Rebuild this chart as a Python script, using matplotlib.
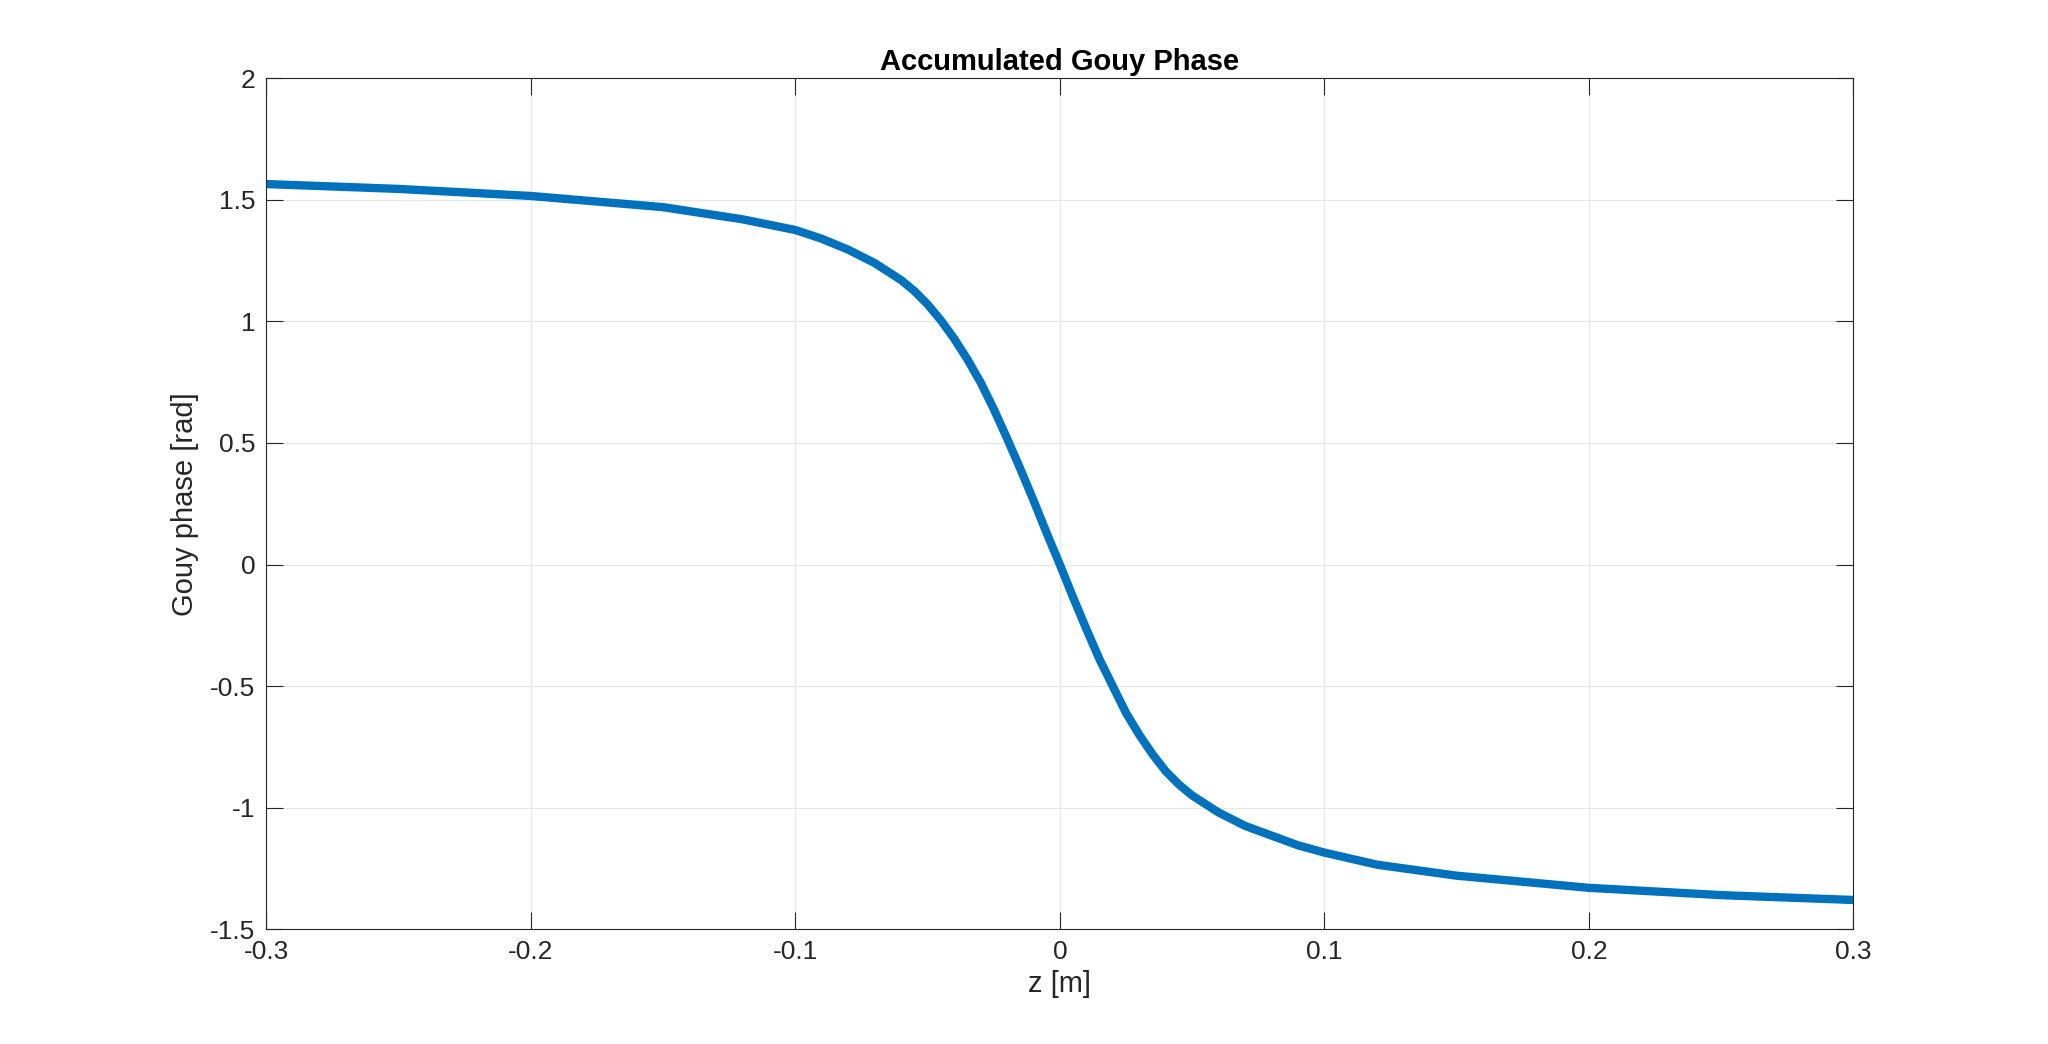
import numpy as np
import matplotlib
matplotlib.use("Agg")
from matplotlib import pyplot as plt

# values
z_m = [-0.3, -0.25, -0.2, -0.15, -0.12, -0.1, -0.09, -0.08, -0.07, -0.06, -0.055,
       -0.05, -0.045, -0.04, -0.035, -0.03, -0.025, -0.02, -0.015, -0.01, -0.005,
       0.0, 0.005, 0.01, 0.015, 0.02, 0.025, 0.03, 0.035, 0.04, 0.045, 0.05,
       0.06, 0.07, 0.08, 0.09, 0.1, 0.12, 0.15, 0.2, 0.25, 0.3]
gouy_rad = [1.565, 1.545, 1.516, 1.47, 1.42, 1.376, 1.34, 1.295, 1.24, 1.17, 1.125,
            1.07, 1.005, 0.93, 0.845, 0.75, 0.64, 0.52, 0.395, 0.265, 0.13,
            0.0, -0.135, -0.265, -0.39, -0.50, -0.61, -0.70, -0.78, -0.85, -0.905, -0.95,
            -1.02, -1.075, -1.115, -1.155, -1.185, -1.235, -1.28, -1.33, -1.36, -1.38]

plt.rcParams['font.family'] = ['Liberation Sans', 'DejaVu Sans']
fig = plt.figure(figsize=(20.48, 10.44), dpi=100)
ax = fig.add_axes([0.13, 0.11, 0.775, 0.815])

ax.plot(z_m, gouy_rad, color='#0072BD', linewidth=6, solid_joinstyle='round')
ax.set_xlim(-0.3, 0.3)
ax.set_ylim(-1.5, 2)
ax.set_xticks(np.arange(-0.3, 0.31, 0.1))
ax.set_xticklabels(['-0.3', '-0.2', '-0.1', '0', '0.1', '0.2', '0.3'])
ax.set_yticks(np.arange(-1.5, 2.01, 0.5))
ax.set_yticklabels(['-1.5', '-1', '-0.5', '0', '0.5', '1', '1.5', '2'])
ax.grid(True, color='#e6e6e6', linewidth=0.8)
ax.set_axisbelow(True)
ax.tick_params(direction='in', top=True, right=True, labelsize=19, length=12,
               pad=8, color='#262626', labelcolor='#262626')
for s in ax.spines.values():
    s.set_color('#262626')
    s.set_linewidth(0.8)

ax.set_xlabel('z [m]', fontsize=21, color='#262626', labelpad=4)
ax.set_ylabel('Gouy phase [rad]', fontsize=21, color='#262626', labelpad=8)
ax.set_title('Accumulated Gouy Phase', fontsize=21, fontweight='bold', pad=6)

fig.savefig('out.png', dpi=100)
